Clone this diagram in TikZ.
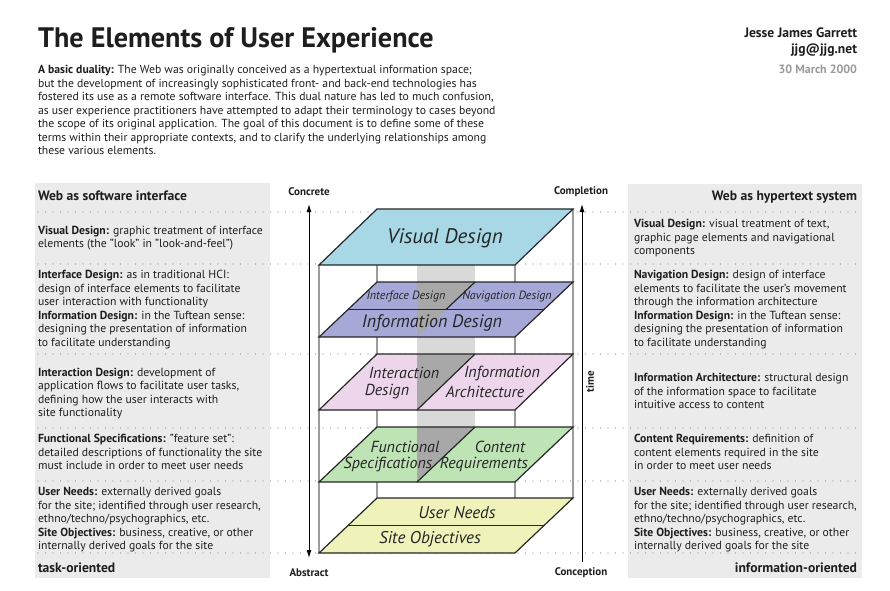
\documentclass[tikz,border=0pt]{standalone}
\usepackage{fontspec}
\setmainfont{PT Sans}
\usetikzlibrary{arrows.meta}
\definecolor{panelgray}{HTML}{EBEBEB}
\definecolor{txt}{HTML}{1E1E1E}
\definecolor{dategray}{HTML}{9A9A9A}
\definecolor{dotgray}{HTML}{8C8C8C}
\definecolor{framegray}{HTML}{9C9C9C}
\definecolor{collight}{HTML}{D9D9D9}
\definecolor{coldark}{HTML}{A8A8A8}
\definecolor{vdblue}{HTML}{A8D8E6}
\definecolor{idpurple}{HTML}{A6A8D8}
\definecolor{iapink}{HTML}{EDD6EC}
\definecolor{fsgreen}{HTML}{BEE3B5}
\definecolor{unyellow}{HTML}{EFF3B9}
\tikzset{
  body/.style={anchor=north west, align=left, text=txt, font=\fontsize{11.7}{13.5}\selectfont},
  head/.style={text=txt, font=\fontsize{13.6}{15}\selectfont\bfseries},
  axislabel/.style={text=txt, font=\fontsize{11}{13}\selectfont\bfseries},
  dotline/.style={draw=dotgray, line width=1.2pt, dash pattern=on 0pt off 7.5pt, line cap=round},
  frameline/.style={draw=framegray, line width=1.1pt},
  planeline/.style={draw=black!85, line width=1.2pt, line join=miter},
  lay/.style={text=black!85, font=\fontsize{#1}{#1}\selectfont\itshape},
  lay/.default=16
}
\begin{document}
\begin{tikzpicture}[x=1pt,y=-1pt, every node/.style={inner sep=0pt, outer sep=0pt}]
\useasboundingbox[fill=white] (0,0) rectangle (890,590);

% header
\node[anchor=base west, text=txt, font=\fontsize{28.2}{30}\selectfont\bfseries] (title) at (38,47) {The Elements of User Experience};
\node[anchor=base east, head] (author) at (857,37) {Jesse James Garrett};
\node[anchor=base east, head] (mail) at (857,53) {jjg@jjg.net};
\node[anchor=base east, text=dategray, font=\fontsize{12}{14}\selectfont\bfseries] (date) at (857,73.5) {30 March 2000};
\node[body] (intro) at (38,65.5) {\textbf{A basic duality:} The Web was originally conceived as a hypertextual information space;\\
but the development of increasingly sophisticated front- and back-end technologies has\\
fostered its use as a remote software interface. This dual nature has led to much confusion,\\
as user experience practitioners have attempted to adapt their terminology to cases beyond\\
the scope of its original application. The goal of this document is to define some of these\\
terms within their appropriate contexts, and to clarify the underlying relationships among\\
these various elements.};

% side panels
\fill[panelgray] (35,183) rectangle (270,578);
\fill[panelgray] (628,184) rectangle (862,578);

% dotted separators
\foreach \yy in {212,264,354,428,481,553} \draw[dotline] (38,\yy) -- (858,\yy);

% frame of the stack
\draw[frameline] (319,265) -- (319,553);
\draw[frameline] (515,265) -- (515,553);
\draw[frameline] (377,209) -- (377,498);
\draw[frameline] (573,209) -- (573,498);
% column
\fill[collight] (417,265) rectangle (475,482);

% Visual Design plane
\filldraw[planeline, fill=vdblue] (377,209) -- (573,209) -- (515,265) -- (319,265) -- cycle;
\node[lay=21] (vd) at (445,238) {Visual Design};

% Interface / Navigation / Information Design plane
\fill[idpurple] (377,282) -- (573,282) -- (515,337) -- (319,337) -- cycle;
\fill[coldark] (417,282) -- (475,282) -- (417,337) -- cycle;
\draw[planeline] (377,282) -- (573,282) -- (515,337) -- (319,337) -- cycle;
\draw[planeline] (348,309.5) -- (544,309.5);
\draw[planeline] (475,282) -- (446,309.5);
\node[lay=12] (ifd) at (406,296.5) {Interface Design};
\node[lay=12] (nvd) at (507,296.5) {Navigation Design};
\node[lay=18] (infd) at (432,323) {Information Design};

% Interaction Design / Information Architecture plane
\fill[iapink] (377,354) -- (573,354) -- (515,410) -- (319,410) -- cycle;
\fill[coldark] (417,354) -- (475,354) -- (417,410) -- cycle;
\draw[planeline] (377,354) -- (573,354) -- (515,410) -- (319,410) -- cycle;
\draw[planeline] (475,354) -- (417,410);
\node[lay] (ixd1) at (404,373) {Interaction};
\node[lay] (ixd2) at (387,392) {Design};
\node[lay] (ia1) at (502,373) {Information};
\node[lay] (ia2) at (485,392) {Architecture};

% Functional Specifications / Content Requirements plane
\fill[fsgreen] (377,427) -- (573,427) -- (515,482) -- (319,482) -- cycle;
\fill[coldark] (417,427) -- (475,427) -- (417,482) -- cycle;
\draw[planeline] (377,427) -- (573,427) -- (515,482) -- (319,482) -- cycle;
\draw[planeline] (475,427) -- (417,482);
\node[lay] (fs1) at (405,447) {Functional};
\node[lay] (fs2) at (388,464) {Specifications};
\node[lay] (cr1) at (500,447) {Content};
\node[lay] (cr2) at (484,464) {Requirements};

% User Needs / Site Objectives plane
\filldraw[planeline, fill=unyellow] (377,498) -- (573,498) -- (515,553) -- (319,553) -- cycle;
\draw[planeline] (348,525.5) -- (544,525.5);
\node[lay=17] (un) at (457,513) {User Needs};
\node[lay=17] (so) at (430,539) {Site Objectives};

% axes
\node[axislabel] (concrete) at (309,192) {Concrete};
\node[axislabel] (abstract) at (309,573) {Abstract};
\node[axislabel] (completion) at (581,192) {Completion};
\node[axislabel] (conception) at (581,573) {Conception};
\coordinate (ltop) at (309,204);
\coordinate (lbot) at (309,558);
\coordinate (rtop) at (582,204);
\coordinate (rbot) at (582,562);
\draw[line width=1pt, {Latex[length=8pt,width=5pt]}-{Latex[length=8pt,width=5pt]}] (ltop) -- (lbot);
\draw[line width=1pt, {Latex[length=8pt,width=5pt]}-] (rtop) -- (rbot);
\node[axislabel, rotate=90] (time) at (590,382) {time};

% left panel texts
\node[anchor=base west, head] (lhead) at (38,200.5) {Web as software interface};
\node[body] (l1) at (38,226) {\textbf{Visual Design:} graphic treatment of interface\\
elements (the "look" in "look-and-feel")};
\node[body] (l2) at (38,270.5) {\textbf{Interface Design:} as in traditional HCI:\\
design of interface elements to facilitate\\
user interaction with functionality\\
\textbf{Information Design:} in the Tuftean sense:\\
designing the presentation of information\\
to facilitate understanding};
\node[body] (l3) at (38,368) {\textbf{Interaction Design:} development of\\
application flows to facilitate user tasks,\\
defining how the user interacts with\\
site functionality};
\node[body] (l4) at (38,434.5) {\textbf{Functional Specifications:} "feature set":\\
detailed descriptions of functionality the site\\
must include in order to meet user needs};
\node[body] (l5) at (38,487.5) {\textbf{User Needs:} externally derived goals\\
for the site; identified through user research,\\
ethno/techno/psychographics, etc.\\
\textbf{Site Objectives:} business, creative, or other\\
internally derived goals for the site};
\node[anchor=base west, head] (ltail) at (38,572) {task-oriented};

% right panel texts
\node[anchor=base east, head] (rhead) at (857,200.5) {Web as hypertext system};
\node[body] (r1) at (634,219.5) {\textbf{Visual Design:} visual treatment of text,\\
graphic page elements and navigational\\
components};
\node[body] (r2) at (634,270.5) {\textbf{Navigation Design:} design of interface\\
elements to facilitate the user's movement\\
through the information architecture\\
\textbf{Information Design:} in the Tuftean sense:\\
designing the presentation of information\\
to facilitate understanding};
\node[body] (r3) at (634,373.5) {\textbf{Information Architecture:} structural design\\
of the information space to facilitate\\
intuitive access to content};
\node[body] (r4) at (634,434.5) {\textbf{Content Requirements:} definition of\\
content elements required in the site\\
in order to meet user needs};
\node[body] (r5) at (634,487.5) {\textbf{User Needs:} externally derived goals\\
for the site; identified through user research,\\
ethno/techno/psychographics, etc.\\
\textbf{Site Objectives:} business, creative, or other\\
internally derived goals for the site};
\node[anchor=base east, head] (rtail) at (857,572) {information-oriented};
\end{tikzpicture}
\end{document}
